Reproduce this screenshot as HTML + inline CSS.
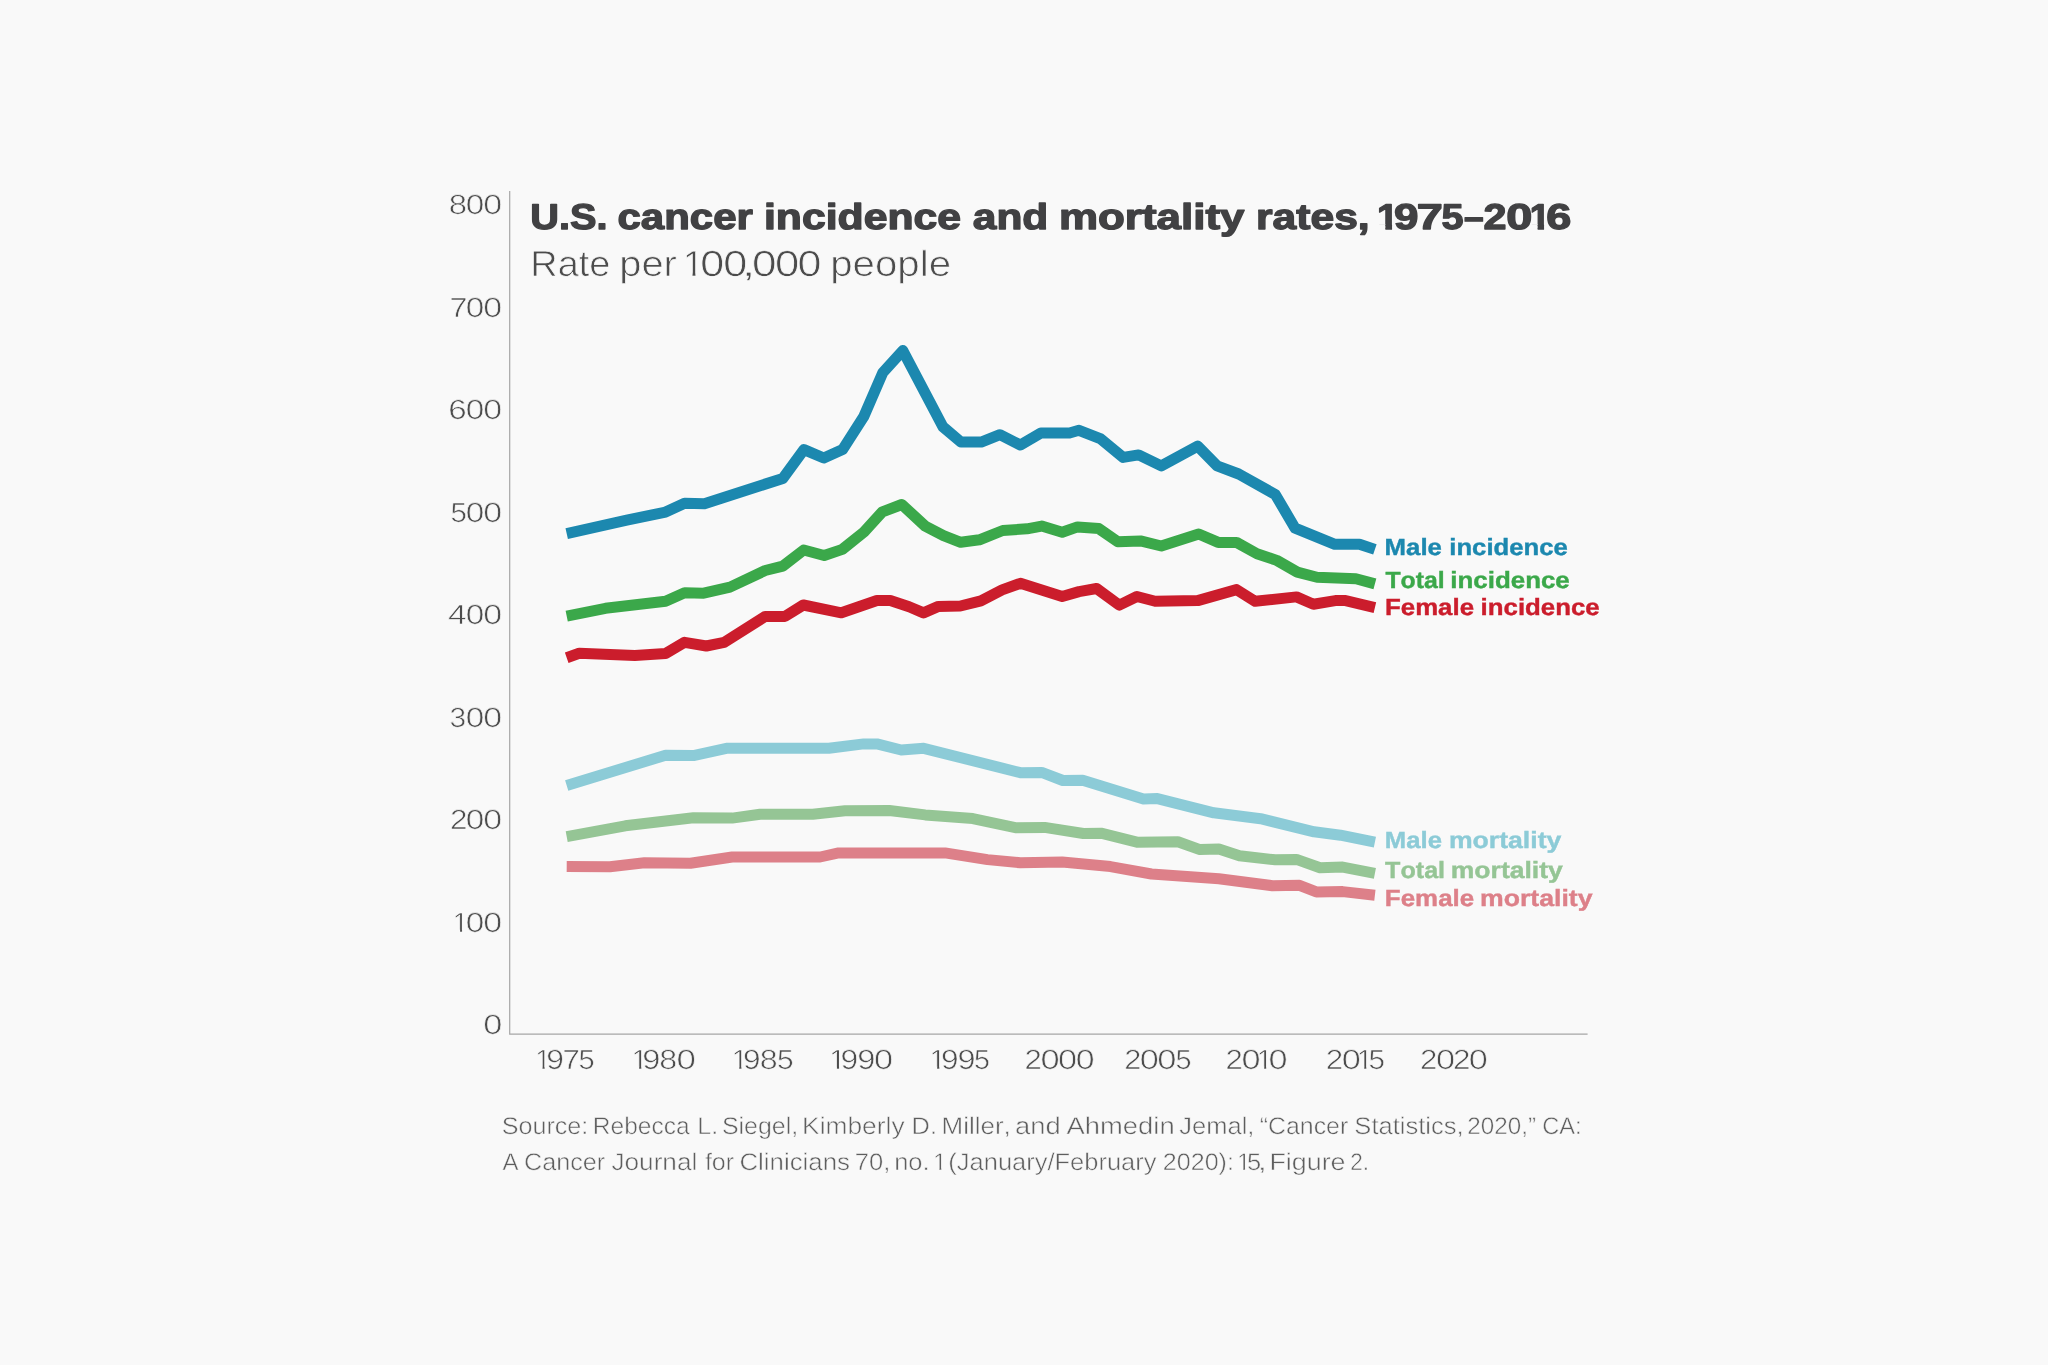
<!DOCTYPE html>
<html lang="en"><head><meta charset="utf-8">
<title>U.S. cancer incidence and mortality rates, 1975–2016</title>
<style>
html,body{margin:0;padding:0;background:#f9f9f9;}
body{width:2048px;height:1365px;overflow:hidden;}
svg{display:block;font-family:"Liberation Sans",sans-serif;will-change:transform;font-kerning:none;text-rendering:geometricPrecision;}
text{white-space:pre;}
.ax{fill:#4c4c4c;font-size:27.8px;stroke:#f9f9f9;stroke-width:0.6px;}
.sub{fill:#4c4c4c;font-size:36.2px;stroke:#f9f9f9;stroke-width:0.7px;}
.src{fill:#5e5e5e;font-size:24.0px;stroke:#f9f9f9;stroke-width:0.5px;}
.ttl{fill:#414143;font-weight:bold;font-size:35.9px;stroke:#414143;stroke-width:1.3px;stroke-linejoin:round;}
.lab{font-weight:bold;font-size:23.4px;stroke-width:0.4px;}
.ln{fill:none;stroke-width:11;stroke-linejoin:round;stroke-linecap:butt;}
</style></head><body>
<svg width="2048" height="1365" viewBox="0 0 2048 1365">
<rect width="2048" height="1365" fill="#f9f9f9"/>
<path d="M509.7 191.0V1034.2H1587.6" fill="none" stroke="#a6a6a6" stroke-width="1.2"/>
<g>
<text class="ax" y="1034.00"><tspan x="483.16" textLength="19.08" lengthAdjust="spacingAndGlyphs">0</tspan></text>
</g>
<g>
<clipPath id="c1"><path d="M450.82 904.20H462.05V935.00H460.08V929.42H450.82Z"/></clipPath>
<text class="ax" x="452.82" y="932.00" textLength="15.52" lengthAdjust="spacingAndGlyphs" clip-path="url(#c1)">1</text>
<text class="ax" y="932.00"><tspan x="465.70" textLength="18.50" lengthAdjust="spacingAndGlyphs">0</tspan><tspan x="483.38" textLength="18.85" lengthAdjust="spacingAndGlyphs">0</tspan></text>
</g>
<g>
<text class="ax" y="829.00"><tspan x="449.92" textLength="17.46" lengthAdjust="spacingAndGlyphs">2</tspan><tspan x="465.70" textLength="18.50" lengthAdjust="spacingAndGlyphs">0</tspan><tspan x="483.38" textLength="18.85" lengthAdjust="spacingAndGlyphs">0</tspan></text>
</g>
<g>
<text class="ax" y="727.00"><tspan x="449.56" textLength="16.66" lengthAdjust="spacingAndGlyphs">3</tspan><tspan x="465.70" textLength="18.50" lengthAdjust="spacingAndGlyphs">0</tspan><tspan x="483.38" textLength="18.85" lengthAdjust="spacingAndGlyphs">0</tspan></text>
</g>
<g>
<text class="ax" y="624.00"><tspan x="447.93" textLength="18.65" lengthAdjust="spacingAndGlyphs">4</tspan><tspan x="465.70" textLength="18.50" lengthAdjust="spacingAndGlyphs">0</tspan><tspan x="483.38" textLength="18.85" lengthAdjust="spacingAndGlyphs">0</tspan></text>
</g>
<g>
<text class="ax" y="522.00"><tspan x="450.42" textLength="16.42" lengthAdjust="spacingAndGlyphs">5</tspan><tspan x="465.70" textLength="18.50" lengthAdjust="spacingAndGlyphs">0</tspan><tspan x="483.38" textLength="18.85" lengthAdjust="spacingAndGlyphs">0</tspan></text>
</g>
<g>
<text class="ax" y="419.00"><tspan x="448.32" textLength="18.44" lengthAdjust="spacingAndGlyphs">6</tspan><tspan x="465.70" textLength="18.50" lengthAdjust="spacingAndGlyphs">0</tspan><tspan x="483.38" textLength="18.85" lengthAdjust="spacingAndGlyphs">0</tspan></text>
</g>
<g>
<text class="ax" y="317.00"><tspan x="449.64" textLength="17.98" lengthAdjust="spacingAndGlyphs">7</tspan><tspan x="465.70" textLength="18.50" lengthAdjust="spacingAndGlyphs">0</tspan><tspan x="483.38" textLength="18.85" lengthAdjust="spacingAndGlyphs">0</tspan></text>
</g>
<g>
<text class="ax" y="214.00"><tspan x="448.77" textLength="18.25" lengthAdjust="spacingAndGlyphs">8</tspan><tspan x="465.70" textLength="18.50" lengthAdjust="spacingAndGlyphs">0</tspan><tspan x="483.38" textLength="18.85" lengthAdjust="spacingAndGlyphs">0</tspan></text>
</g>
<g>
<clipPath id="c2"><path d="M533.32 1041.20H544.55V1072.00H542.58V1066.42H533.32Z"/></clipPath>
<text class="ax" x="535.32" y="1069.00" textLength="15.52" lengthAdjust="spacingAndGlyphs" clip-path="url(#c2)">1</text>
<text class="ax" y="1069.00"><tspan x="546.21" textLength="17.70" lengthAdjust="spacingAndGlyphs">9</tspan><tspan x="562.40" textLength="17.37" lengthAdjust="spacingAndGlyphs">7</tspan><tspan x="578.63" textLength="16.19" lengthAdjust="spacingAndGlyphs">5</tspan></text>
</g>
<g>
<clipPath id="c3"><path d="M629.46 1041.20H641.25V1072.00H639.14V1066.42H629.46Z"/></clipPath>
<text class="ax" x="631.46" y="1069.00" textLength="16.43" lengthAdjust="spacingAndGlyphs" clip-path="url(#c3)">1</text>
<text class="ax" y="1069.00"><tspan x="642.37" textLength="18.18" lengthAdjust="spacingAndGlyphs">9</tspan><tspan x="659.20" textLength="17.90" lengthAdjust="spacingAndGlyphs">8</tspan><tspan x="676.44" textLength="19.43" lengthAdjust="spacingAndGlyphs">0</tspan></text>
</g>
<g>
<clipPath id="c4"><path d="M729.70 1041.20H741.35V1072.00H739.27V1066.42H729.70Z"/></clipPath>
<text class="ax" x="731.70" y="1069.00" textLength="16.21" lengthAdjust="spacingAndGlyphs" clip-path="url(#c4)">1</text>
<text class="ax" y="1069.00"><tspan x="743.02" textLength="17.58" lengthAdjust="spacingAndGlyphs">9</tspan><tspan x="759.80" textLength="17.90" lengthAdjust="spacingAndGlyphs">8</tspan><tspan x="777.10" textLength="16.66" lengthAdjust="spacingAndGlyphs">5</tspan></text>
</g>
<g>
<clipPath id="c5"><path d="M827.26 1041.20H839.05V1072.00H836.94V1066.42H827.26Z"/></clipPath>
<text class="ax" x="829.26" y="1069.00" textLength="16.43" lengthAdjust="spacingAndGlyphs" clip-path="url(#c5)">1</text>
<text class="ax" y="1069.00"><tspan x="840.51" textLength="17.70" lengthAdjust="spacingAndGlyphs">9</tspan><tspan x="857.17" textLength="18.18" lengthAdjust="spacingAndGlyphs">9</tspan><tspan x="874.06" textLength="19.08" lengthAdjust="spacingAndGlyphs">0</tspan></text>
</g>
<g>
<clipPath id="c6"><path d="M927.60 1041.20H939.25V1072.00H937.17V1066.42H927.60Z"/></clipPath>
<text class="ax" x="929.60" y="1069.00" textLength="16.21" lengthAdjust="spacingAndGlyphs" clip-path="url(#c6)">1</text>
<text class="ax" y="1069.00"><tspan x="940.92" textLength="17.58" lengthAdjust="spacingAndGlyphs">9</tspan><tspan x="957.58" textLength="18.06" lengthAdjust="spacingAndGlyphs">9</tspan><tspan x="974.05" textLength="15.95" lengthAdjust="spacingAndGlyphs">5</tspan></text>
</g>
<g>
<text class="ax" y="1069.00"><tspan x="1024.43" textLength="17.34" lengthAdjust="spacingAndGlyphs">2</tspan><tspan x="1040.45" textLength="19.20" lengthAdjust="spacingAndGlyphs">0</tspan><tspan x="1058.06" textLength="19.08" lengthAdjust="spacingAndGlyphs">0</tspan><tspan x="1075.68" textLength="18.85" lengthAdjust="spacingAndGlyphs">0</tspan></text>
</g>
<g>
<text class="ax" y="1069.00"><tspan x="1124.15" textLength="17.09" lengthAdjust="spacingAndGlyphs">2</tspan><tspan x="1139.76" textLength="19.08" lengthAdjust="spacingAndGlyphs">0</tspan><tspan x="1157.25" textLength="19.20" lengthAdjust="spacingAndGlyphs">0</tspan><tspan x="1175.54" textLength="16.07" lengthAdjust="spacingAndGlyphs">5</tspan></text>
</g>
<g>
<text class="ax" y="1069.00"><tspan x="1225.63" textLength="17.34" lengthAdjust="spacingAndGlyphs">2</tspan><tspan x="1241.46" textLength="19.08" lengthAdjust="spacingAndGlyphs">0</tspan></text>
<clipPath id="c7"><path d="M1255.05 1041.20H1266.15V1072.00H1264.22V1066.42H1255.05Z"/></clipPath>
<text class="ax" x="1257.05" y="1069.00" textLength="15.29" lengthAdjust="spacingAndGlyphs" clip-path="url(#c7)">1</text>
<text class="ax" y="1069.00"><tspan x="1268.46" textLength="19.08" lengthAdjust="spacingAndGlyphs">0</tspan></text>
</g>
<g>
<text class="ax" y="1069.00"><tspan x="1325.82" textLength="17.46" lengthAdjust="spacingAndGlyphs">2</tspan><tspan x="1341.66" textLength="19.08" lengthAdjust="spacingAndGlyphs">0</tspan></text>
<clipPath id="c8"><path d="M1355.02 1041.20H1366.25V1072.00H1364.28V1066.42H1355.02Z"/></clipPath>
<text class="ax" x="1357.02" y="1069.00" textLength="15.52" lengthAdjust="spacingAndGlyphs" clip-path="url(#c8)">1</text>
<text class="ax" y="1069.00"><tspan x="1368.41" textLength="16.54" lengthAdjust="spacingAndGlyphs">5</tspan></text>
</g>
<g>
<text class="ax" y="1069.00"><tspan x="1420.13" textLength="17.34" lengthAdjust="spacingAndGlyphs">2</tspan><tspan x="1435.96" textLength="19.08" lengthAdjust="spacingAndGlyphs">0</tspan><tspan x="1453.02" textLength="17.46" lengthAdjust="spacingAndGlyphs">2</tspan><tspan x="1468.76" textLength="19.08" lengthAdjust="spacingAndGlyphs">0</tspan></text>
</g>
<path class="ln" stroke="#1c88af" d="M566.7 533.7L626.8 520.1L665.6 512.1L684.6 503.3L704.4 503.7L782.8 478.4L804.0 449.6L823.8 458.0L842.6 449.6L863.8 416.5L882.8 372.6L902.8 350.6L942.9 426.7L961.0 442.1L981.2 442.1L999.9 434.7L1020.4 445.0L1040.9 433.0L1069.5 433.0L1079.0 430.3L1100.2 438.6L1123.2 457.4L1138.6 454.9L1161.3 465.9L1197.7 446.1L1217.1 465.9L1238.7 474.0L1275.3 494.5L1295.1 528.2L1334.9 544.3L1359.5 544.3L1374.9 549.4"/>
<path class="ln" stroke="#3ba84a" d="M566.7 616.2L605.5 608.3L665.6 601.3L684.6 592.8L703.7 593.2L730.0 587.1L765.2 570.5L782.8 566.1L803.7 550.0L824.2 555.5L842.3 549.4L864.0 532.0L882.4 511.8L901.8 504.5L925.2 526.1L943.5 535.7L960.7 542.3L979.4 539.8L1002.8 530.5L1027.0 528.8L1041.7 526.1L1062.2 532.3L1077.5 526.9L1098.8 528.6L1117.8 541.7L1140.5 540.9L1161.3 546.0L1198.7 534.0L1218.2 542.4L1236.5 542.4L1257.0 553.8L1276.8 560.4L1297.3 572.1L1317.0 577.2L1355.9 578.7L1374.9 583.9"/>
<path class="ln" stroke="#cb1d2c" d="M566.7 657.7L579.2 653.3L634.8 655.5L665.6 653.6L684.6 642.3L706.3 646.0L724.2 642.3L765.2 616.4L785.0 616.4L803.3 605.0L841.4 612.8L876.9 600.5L890.3 600.5L909.1 606.7L923.5 612.9L938.4 606.4L960.4 606.0L980.9 600.8L1002.1 589.9L1020.4 583.3L1062.2 596.5L1079.0 591.6L1096.6 588.5L1119.3 605.1L1136.9 596.5L1155.2 601.3L1197.7 600.6L1236.5 589.6L1255.2 601.3L1296.5 596.9L1313.4 604.2L1335.3 600.6L1345.6 600.6L1374.9 607.6"/>
<path class="ln" stroke="#8ccbd7" d="M566.7 785.6L665.6 755.2L693.4 755.6L726.4 748.3L828.9 748.3L863.7 743.9L876.9 743.9L901.3 750.0L923.7 748.3L1020.4 772.7L1041.7 772.4L1062.9 780.5L1082.7 780.3L1143.5 798.9L1157.4 798.6L1213.8 812.8L1260.6 818.7L1314.1 831.8L1340.5 835.2L1374.9 842.2"/>
<path class="ln" stroke="#95c595" d="M566.7 836.7L625.3 825.8L693.4 817.7L732.2 818.1L760.1 814.2L812.8 814.2L845.0 810.8L889.3 810.5L925.2 814.9L972.8 818.6L1015.3 827.7L1044.6 827.4L1083.4 833.5L1101.0 833.2L1136.9 842.2L1177.9 841.8L1199.9 849.6L1218.9 849.1L1239.4 855.7L1275.3 859.8L1296.5 859.4L1320.0 867.7L1342.7 867.1L1374.9 873.3"/>
<path class="ln" stroke="#dd8089" d="M566.7 866.5L609.9 866.8L644.4 862.8L690.5 863.3L732.2 857.0L820.1 857.0L838.6 852.9L945.0 852.9L987.5 859.6L1020.4 862.8L1062.2 862.1L1110.5 866.6L1151.5 874.0L1218.9 878.7L1272.4 885.7L1299.5 885.3L1316.3 891.9L1342.7 891.6L1374.9 895.3"/>
<text class="lab" x="1384.58" y="555.00" textLength="57.31" lengthAdjust="spacingAndGlyphs" fill="#1c88af" stroke="#1c88af">Male</text>
<text class="lab" x="1449.31" y="555.00" textLength="118.47" lengthAdjust="spacingAndGlyphs" fill="#1c88af" stroke="#1c88af">incidence</text>
<text class="lab" x="1385.42" y="588.00" textLength="59.23" lengthAdjust="spacingAndGlyphs" fill="#3ba84a" stroke="#3ba84a">Total</text>
<text class="lab" x="1450.29" y="588.00" textLength="119.49" lengthAdjust="spacingAndGlyphs" fill="#3ba84a" stroke="#3ba84a">incidence</text>
<text class="lab" x="1384.97" y="615.00" textLength="89.11" lengthAdjust="spacingAndGlyphs" fill="#cb1d2c" stroke="#cb1d2c">Female</text>
<text class="lab" x="1480.60" y="615.00" textLength="119.08" lengthAdjust="spacingAndGlyphs" fill="#cb1d2c" stroke="#cb1d2c">incidence</text>
<text class="lab" x="1384.88" y="848.00" textLength="57.10" lengthAdjust="spacingAndGlyphs" fill="#8ccbd7" stroke="#8ccbd7">Male</text>
<text class="lab" x="1448.95" y="848.00" textLength="112.40" lengthAdjust="spacingAndGlyphs" fill="#8ccbd7" stroke="#8ccbd7">mortality</text>
<text class="lab" x="1385.12" y="878.00" textLength="59.96" lengthAdjust="spacingAndGlyphs" fill="#95c595" stroke="#95c595">Total</text>
<text class="lab" x="1450.75" y="878.00" textLength="112.09" lengthAdjust="spacingAndGlyphs" fill="#95c595" stroke="#95c595">mortality</text>
<text class="lab" x="1384.87" y="906.00" textLength="89.32" lengthAdjust="spacingAndGlyphs" fill="#dd8089" stroke="#dd8089">Female</text>
<text class="lab" x="1480.04" y="906.00" textLength="112.50" lengthAdjust="spacingAndGlyphs" fill="#dd8089" stroke="#dd8089">mortality</text>
<text class="ttl" x="530.27" y="229.00" textLength="77.22" lengthAdjust="spacingAndGlyphs">U.S.</text>
<text class="ttl" x="617.51" y="229.00" textLength="135.38" lengthAdjust="spacingAndGlyphs">cancer</text>
<text class="ttl" x="763.97" y="229.00" textLength="197.04" lengthAdjust="spacingAndGlyphs">incidence</text>
<text class="ttl" x="972.81" y="229.00" textLength="75.44" lengthAdjust="spacingAndGlyphs">and</text>
<text class="ttl" x="1058.95" y="229.00" textLength="185.63" lengthAdjust="spacingAndGlyphs">mortality</text>
<text class="ttl" x="1256.04" y="229.00" textLength="113.66" lengthAdjust="spacingAndGlyphs">rates,</text>
<g>
<clipPath id="c9"><path d="M1375.13 193.10H1392.05V232.00H1385.38V224.19H1375.13Z"/></clipPath>
<text class="ttl" x="1377.13" y="229.00" textLength="21.34" lengthAdjust="spacingAndGlyphs" clip-path="url(#c9)">1</text>
<text class="ttl" y="229.00"><tspan x="1394.03" textLength="24.46" lengthAdjust="spacingAndGlyphs">9</tspan><tspan x="1416.74" textLength="26.07" lengthAdjust="spacingAndGlyphs">7</tspan><tspan x="1441.63" textLength="22.02" lengthAdjust="spacingAndGlyphs">5</tspan><tspan x="1464.08" textLength="19.66" lengthAdjust="spacingAndGlyphs">–</tspan><tspan x="1483.62" textLength="22.99" lengthAdjust="spacingAndGlyphs">2</tspan><tspan x="1506.30" textLength="26.08" lengthAdjust="spacingAndGlyphs">0</tspan></text>
<clipPath id="c10"><path d="M1527.86 193.10H1544.05V232.00H1537.66V224.19H1527.86Z"/></clipPath>
<text class="ttl" x="1529.86" y="229.00" textLength="20.24" lengthAdjust="spacingAndGlyphs" clip-path="url(#c10)">1</text>
<text class="ttl" y="229.00"><tspan x="1546.20" textLength="25.08" lengthAdjust="spacingAndGlyphs">6</tspan></text>
</g>
<text class="sub" x="530.34" y="276.00" textLength="79.99" lengthAdjust="spacingAndGlyphs">Rate</text>
<text class="sub" x="619.28" y="276.00" textLength="57.63" lengthAdjust="spacingAndGlyphs">per</text>
<g>
<clipPath id="c11"><path d="M680.68 239.80H695.35V279.00H692.58V272.80H680.68Z"/></clipPath>
<text class="sub" x="682.68" y="276.00" textLength="21.23" lengthAdjust="spacingAndGlyphs" clip-path="url(#c11)">1</text>
<text class="sub" y="276.00"><tspan x="700.17" textLength="23.97" lengthAdjust="spacingAndGlyphs">0</tspan><tspan x="723.26" textLength="24.08" lengthAdjust="spacingAndGlyphs">0</tspan><tspan x="741.47" textLength="14.15" lengthAdjust="spacingAndGlyphs">,</tspan><tspan x="751.93" textLength="24.55" lengthAdjust="spacingAndGlyphs">0</tspan><tspan x="775.04" textLength="24.32" lengthAdjust="spacingAndGlyphs">0</tspan><tspan x="797.57" textLength="23.97" lengthAdjust="spacingAndGlyphs">0</tspan></text>
</g>
<text class="sub" x="830.26" y="276.00" textLength="120.78" lengthAdjust="spacingAndGlyphs">people</text>
<text class="src" x="501.71" y="1134.00" textLength="86.64" lengthAdjust="spacingAndGlyphs">Source:</text>
<text class="src" x="592.84" y="1134.00" textLength="96.81" lengthAdjust="spacingAndGlyphs">Rebecca</text>
<text class="src" x="697.30" y="1134.00" textLength="20.83" lengthAdjust="spacingAndGlyphs">L.</text>
<text class="src" x="721.92" y="1134.00" textLength="76.27" lengthAdjust="spacingAndGlyphs">Siegel,</text>
<text class="src" x="802.09" y="1134.00" textLength="102.51" lengthAdjust="spacingAndGlyphs">Kimberly</text>
<text class="src" x="911.57" y="1134.00" textLength="25.40" lengthAdjust="spacingAndGlyphs">D.</text>
<text class="src" x="941.52" y="1134.00" textLength="69.26" lengthAdjust="spacingAndGlyphs">Miller,</text>
<text class="src" x="1014.99" y="1134.00" textLength="45.62" lengthAdjust="spacingAndGlyphs">and</text>
<text class="src" x="1066.50" y="1134.00" textLength="108.13" lengthAdjust="spacingAndGlyphs">Ahmedin</text>
<text class="src" x="1179.35" y="1134.00" textLength="75.09" lengthAdjust="spacingAndGlyphs">Jemal,</text>
<text class="src" x="1259.74" y="1134.00" textLength="88.52" lengthAdjust="spacingAndGlyphs">“Cancer</text>
<text class="src" x="1354.39" y="1134.00" textLength="109.25" lengthAdjust="spacingAndGlyphs">Statistics,</text>
<text class="src" x="1467.33" y="1134.00" textLength="68.71" lengthAdjust="spacingAndGlyphs">2020,”</text>
<text class="src" x="1542.25" y="1134.00" textLength="39.35" lengthAdjust="spacingAndGlyphs">CA:</text>
<text class="src" x="502.40" y="1170.00" textLength="15.99" lengthAdjust="spacingAndGlyphs">A</text>
<text class="src" x="524.07" y="1170.00" textLength="81.20" lengthAdjust="spacingAndGlyphs">Cancer</text>
<text class="src" x="611.44" y="1170.00" textLength="85.86" lengthAdjust="spacingAndGlyphs">Journal</text>
<text class="src" x="704.90" y="1170.00" textLength="29.17" lengthAdjust="spacingAndGlyphs">for</text>
<text class="src" x="739.44" y="1170.00" textLength="110.55" lengthAdjust="spacingAndGlyphs">Clinicians</text>
<text class="src" x="854.84" y="1170.00" textLength="35.62" lengthAdjust="spacingAndGlyphs">70,</text>
<text class="src" x="894.16" y="1170.00" textLength="35.42" lengthAdjust="spacingAndGlyphs">no.</text>
<g>
<clipPath id="c12"><path d="M931.08 1146.00H941.25V1173.00H939.47V1167.71H931.08Z"/></clipPath>
<text class="src" x="933.08" y="1170.00" textLength="13.70" lengthAdjust="spacingAndGlyphs" clip-path="url(#c12)">1</text>
</g>
<text class="src" x="948.37" y="1170.00" textLength="208.13" lengthAdjust="spacingAndGlyphs">(January/February</text>
<text class="src" x="1162.89" y="1170.00" textLength="71.05" lengthAdjust="spacingAndGlyphs">2020):</text>
<g>
<clipPath id="c13"><path d="M1235.02 1146.00H1245.05V1173.00H1243.31V1167.71H1235.02Z"/></clipPath>
<text class="src" x="1237.02" y="1170.00" textLength="13.47" lengthAdjust="spacingAndGlyphs" clip-path="url(#c13)">1</text>
<text class="src" y="1170.00"><tspan x="1246.93" textLength="14.19" lengthAdjust="spacingAndGlyphs">5</tspan><tspan x="1257.82" textLength="9.06" lengthAdjust="spacingAndGlyphs">,</tspan></text>
</g>
<text class="src" x="1269.45" y="1170.00" textLength="76.10" lengthAdjust="spacingAndGlyphs">Figure</text>
<text class="src" x="1350.32" y="1170.00" textLength="18.79" lengthAdjust="spacingAndGlyphs">2.</text>
</svg>
</body></html>
